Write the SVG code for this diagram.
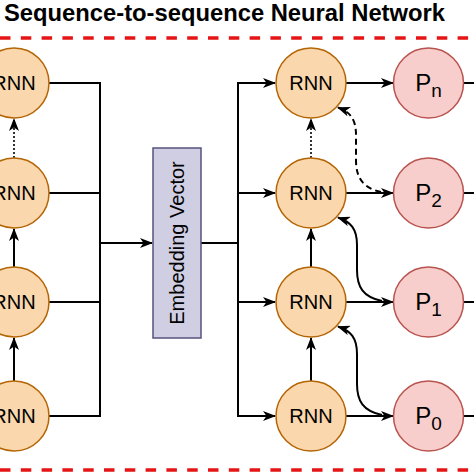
<svg xmlns="http://www.w3.org/2000/svg" width="474" height="474" viewBox="0 0 474 474">
<defs>
<marker id="arr" viewBox="0 0 13 10" refX="12" refY="5" markerWidth="13" markerHeight="10" markerUnits="userSpaceOnUse" orient="auto">
<path d="M0,0 L13,5 L0,10 L3.5,5 Z" fill="#000"/>
</marker>
</defs>
<style>
.t{font-family:"Liberation Sans",Arial,sans-serif;fill:#000}
.rnn circle{fill:#fad7ac;stroke:#b46504;stroke-width:1.5}
.p circle{fill:#f8cecc;stroke:#b85450;stroke-width:1.5}
.ln{fill:none;stroke:#000;stroke-width:2}
.ar{marker-end:url(#arr)}
.dot{stroke-dasharray:2 2;stroke-width:1.6}
.dash{stroke-dasharray:6 4}
.sep{stroke:#e51515;stroke-width:3.5;stroke-dasharray:10.5 10.3;fill:none}
</style>
<rect width="474" height="474" fill="#fff"/>
<text class="t" x="4" y="21" font-size="23" font-weight="bold" textLength="441" lengthAdjust="spacingAndGlyphs">Sequence-to-sequence Neural Network</text>
<g id="separators">
<line class="sep" x1="0" y1="38" x2="474" y2="38"/>
<line class="sep" x1="0" y1="470" x2="474" y2="470"/>
</g>
<g id="connectors">
<!-- encoder outputs to bus -->
<path class="ln" d="M49,83 H100 M49,193 H100 M49,302 H100 M49,416 H100 M100,82 V417"/>
<path class="ln ar" d="M100,243 H152"/>
<!-- encoder vertical -->
<path class="ln ar dot" d="M14,158 V119"/>
<path class="ln ar" d="M14,267 V229"/>
<path class="ln ar" d="M14,381 V338"/>
<!-- embedding to decoder bus -->
<path class="ln" d="M201,243 H238 M238,82 V417"/>
<path class="ln ar" d="M238,83 H275"/>
<path class="ln ar" d="M238,193 H275"/>
<path class="ln ar" d="M238,302 H275"/>
<path class="ln ar" d="M238,416 H275"/>
<!-- decoder vertical -->
<path class="ln ar dot" d="M311,158 V119"/>
<path class="ln ar" d="M311,267 V229"/>
<path class="ln ar" d="M311,381 V338"/>
<!-- RNN to P -->
<path class="ln ar" d="M346,83 H393"/>
<path class="ln ar" d="M346,193 H393"/>
<path class="ln ar" d="M346,302 H393"/>
<path class="ln ar" d="M346,416 H393"/>
<!-- P outputs -->
<path class="ln" d="M463,83 H474 M463,193 H474 M463,302 H474 M463,416 H474"/>
<!-- feedback curves -->
<path class="ln ar dash" d="M381,192 C363,188 356,178 356,160 L356,135 C356,119 350,112 338,107.5"/>
<path class="ln ar" d="M382,301 C363,297 357,287 357,270 L357,245 C357,229 351,222 338,217.5"/>
<path class="ln ar" d="M382,415 C363,411 357,401 357,384 L357,354 C357,338 351,331 338,326.5"/>
</g>
<g id="enc1" class="rnn"><circle cx="14" cy="83" r="35"/><text class="t" x="14" y="90" font-size="20" text-anchor="middle">RNN</text></g>
<g id="enc2" class="rnn"><circle cx="14" cy="193" r="35"/><text class="t" x="14" y="200" font-size="20" text-anchor="middle">RNN</text></g>
<g id="enc3" class="rnn"><circle cx="14" cy="302" r="35"/><text class="t" x="14" y="309" font-size="20" text-anchor="middle">RNN</text></g>
<g id="enc4" class="rnn"><circle cx="14" cy="416" r="35"/><text class="t" x="14" y="423" font-size="20" text-anchor="middle">RNN</text></g>
<g id="embedding">
<rect x="153" y="148" width="48" height="190" fill="#d0cee2" stroke="#56517e" stroke-width="1.5"/>
<text class="t" transform="translate(177,243) rotate(-90)" x="0" y="7" font-size="20" text-anchor="middle">Embedding Vector</text>
</g>
<g id="dec1" class="rnn"><circle cx="311" cy="83" r="35"/><text class="t" x="311" y="90" font-size="20" text-anchor="middle">RNN</text></g>
<g id="dec2" class="rnn"><circle cx="311" cy="193" r="35"/><text class="t" x="311" y="200" font-size="20" text-anchor="middle">RNN</text></g>
<g id="dec3" class="rnn"><circle cx="311" cy="302" r="35"/><text class="t" x="311" y="309" font-size="20" text-anchor="middle">RNN</text></g>
<g id="dec4" class="rnn"><circle cx="311" cy="416" r="35"/><text class="t" x="311" y="423" font-size="20" text-anchor="middle">RNN</text></g>
<g id="pn" class="p"><circle cx="428.5" cy="83" r="35"/><text class="t" x="428.5" y="91" font-size="24" text-anchor="middle">P<tspan font-size="19" dy="6">n</tspan></text></g>
<g id="p2" class="p"><circle cx="428.5" cy="193" r="35"/><text class="t" x="428.5" y="201" font-size="24" text-anchor="middle">P<tspan font-size="19" dy="6">2</tspan></text></g>
<g id="p1" class="p"><circle cx="428.5" cy="302" r="35"/><text class="t" x="428.5" y="310" font-size="24" text-anchor="middle">P<tspan font-size="19" dy="6">1</tspan></text></g>
<g id="p0" class="p"><circle cx="428.5" cy="416" r="35"/><text class="t" x="428.5" y="424" font-size="24" text-anchor="middle">P<tspan font-size="19" dy="6">0</tspan></text></g>
</svg>
